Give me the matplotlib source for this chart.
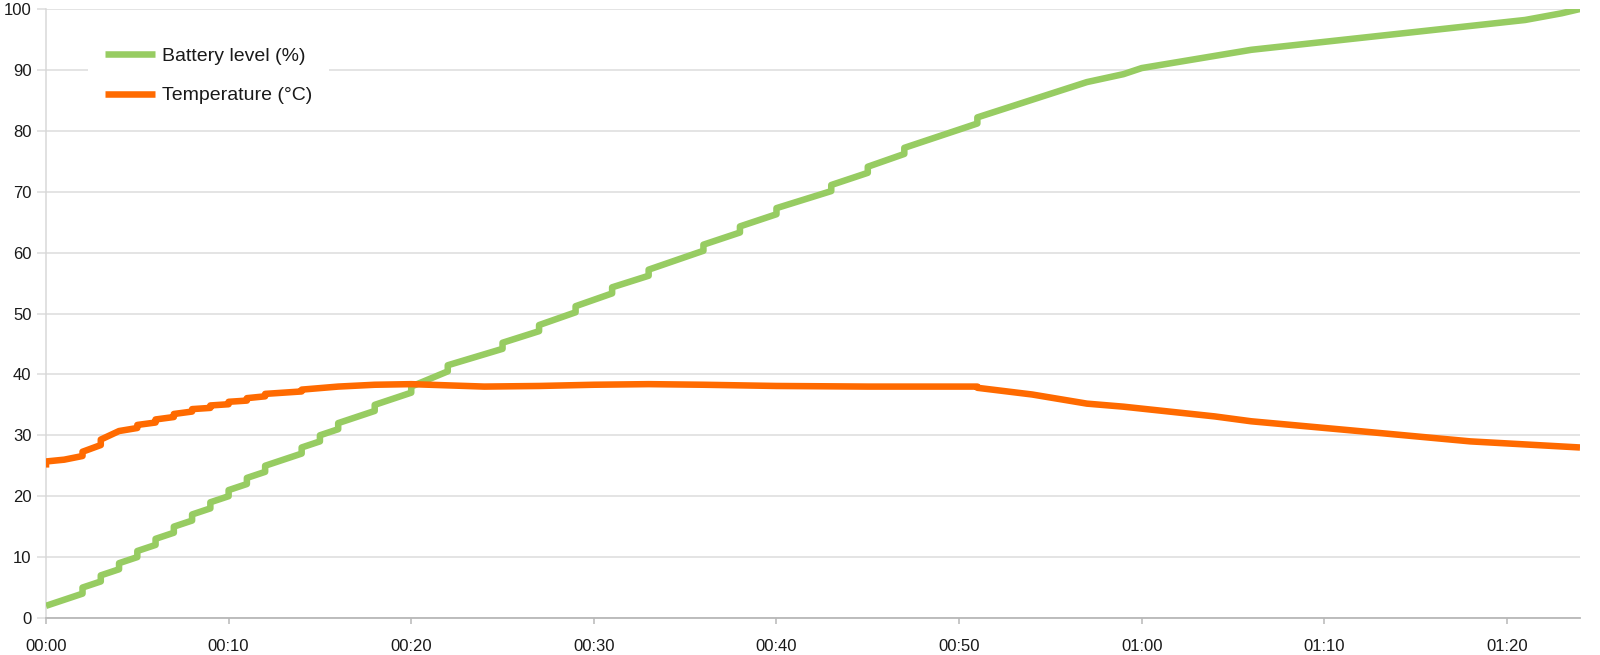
# Battery charging chart: battery level and temperature over time
import numpy as np
import matplotlib.pyplot as plt

plt.rcParams['font.family'] = ['Liberation Sans', 'DejaVu Sans']

# battery level (%) -- repeated minutes make the small vertical steps
battery_min = [0, 2, 2, 3, 3, 4, 4, 5, 5, 6, 6, 7, 7, 8, 8, 9, 9, 10, 10, 11, 11, 12, 12,
               14, 14, 15, 15, 16, 16, 18, 18, 20, 20, 22, 22, 25, 25, 27, 27, 29, 29,
               31, 31, 33, 33, 36, 36, 38, 38, 40, 40, 43, 43, 45, 45, 47, 47, 51, 51,
               57, 59, 60, 62, 66, 81, 83, 84]
battery_pct = [2, 4, 5, 6, 7, 8, 9, 10, 11, 12, 13, 14, 15, 16, 17, 18, 19, 20, 21, 22, 23, 24, 25,
               27, 28, 29, 30, 31, 32, 34, 35, 37, 38, 40.5, 41.5, 44.2, 45.2, 47.1, 48.1, 50.2, 51.2,
               53.3, 54.3, 56.2, 57.2, 60.3, 61.3, 63.3, 64.3, 66.3, 67.3, 70.1, 71.1, 73.1, 74.1, 76.2, 77.2, 81.2, 82.2,
               88, 89.3, 90.3, 91.3, 93.3, 98.2, 99.3, 100]

# temperature (°C)
temp_min = [0, 0, 1, 2, 2, 3, 3, 4, 5, 5, 6, 6, 7, 7, 8, 8, 9, 9, 10, 10, 11, 11, 12, 12,
            14, 14, 16, 18, 20, 22, 24, 27, 30, 33, 36, 38, 40, 45, 51, 51, 54, 57, 59,
            64, 66, 71.5, 78, 84]
temp_c = [24.7, 25.7, 26.0, 26.6, 27.3, 28.4, 29.3, 30.7, 31.2, 31.7, 32.1, 32.6, 33.0, 33.5, 33.9, 34.3,
          34.5, 34.9, 35.1, 35.5, 35.7, 36.1, 36.4, 36.8, 37.2, 37.5, 38.0, 38.3, 38.4, 38.2, 38.0,
          38.1, 38.3, 38.4, 38.3, 38.2, 38.1, 38.0, 38.0, 37.8, 36.7, 35.2, 34.7,
          33.1, 32.3, 30.8, 29.0, 28.0]

x_ticks = [0, 10, 20, 30, 40, 50, 60, 70, 80]
x_labels = ['00:00', '00:10', '00:20', '00:30', '00:40', '00:50', '01:00', '01:10', '01:20']
y_ticks = [0, 10, 20, 30, 40, 50, 60, 70, 80, 90, 100]

green = '#97cc62'
orange = '#ff6a00'

fig = plt.figure(figsize=(16, 6.55), dpi=100)
ax = fig.add_axes([46/1600, 1 - 618/655, (1580 - 46)/1600, (618 - 9)/655])

ax.plot(battery_min, battery_pct, color=green, lw=4.7, solid_joinstyle='round',
        solid_capstyle='butt', label='Battery level (%)', zorder=3)
ax.plot(temp_min, temp_c, color=orange, lw=4.7, solid_joinstyle='round',
        solid_capstyle='butt', label='Temperature (°C)', zorder=3)

ax.set_xlim(0, 84)
ax.set_ylim(0, 100)
ax.set_xticks(x_ticks)
ax.set_xticklabels(x_labels)
ax.set_yticks(y_ticks)

ax.grid(axis='y', color='#dcdcdc', lw=1.1)
ax.set_axisbelow(True)
for s in ['top', 'right']:
    ax.spines[s].set_visible(False)
ax.spines['left'].set_color('#d8d8d8')
ax.spines['left'].set_linewidth(1.1)
ax.spines['bottom'].set_color('#b8b8b8')
ax.spines['bottom'].set_linewidth(1.3)

ax.tick_params(axis='y', length=6.5, width=1.1, color='#dcdcdc', pad=4,
               labelsize=12, labelcolor='#1a1a1a')
ax.tick_params(axis='x', length=4, width=1.1, color='#b8b8b8', pad=11,
               labelsize=12, labelcolor='#1a1a1a')

leg = fig.legend(loc='upper left', bbox_to_anchor=(88/1600, 1 - 30/655),
                 borderaxespad=0, fontsize=14, frameon=True, fancybox=False,
                 handlelength=2.57, handletextpad=0.36, labelspacing=1.15,
                 borderpad=0.87)
leg.get_frame().set_facecolor('white')
leg.get_frame().set_edgecolor('none')
leg.get_frame().set_alpha(1)
for line in leg.get_lines():
    line.set_linewidth(4.7)
for t in leg.get_texts():
    t.set_color('#1a1a1a')

fig.savefig('out.png', dpi=100)
